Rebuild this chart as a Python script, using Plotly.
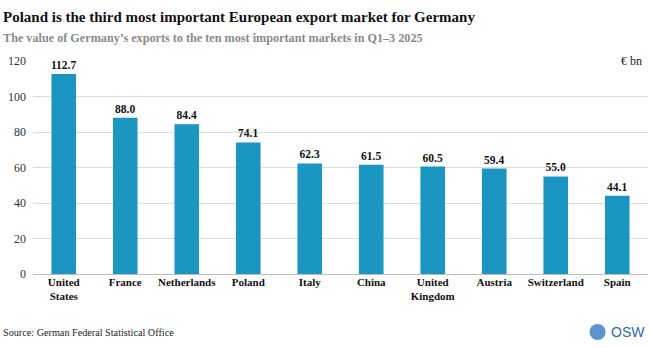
import plotly.graph_objects as go

categories = ["United<br>States", "France", "Netherlands", "Poland", "Italy", "China",
              "United<br>Kingdom", "Austria", "Switzerland", "Spain"]
values = [112.7, 88.0, 84.4, 74.1, 62.3, 61.5, 60.5, 59.4, 55.0, 44.1]
y_ticks = [0, 20, 40, 60, 80, 100, 120]

FONT = "Liberation Serif"
BAR = "#1a96c0"

fig = go.Figure()
fig.add_trace(go.Bar(
    x=categories, y=values, marker_color=BAR, marker_line_width=0,
    text=[f"{v:.1f}" for v in values], textposition="outside",
    textfont=dict(family=FONT, size=11.5, color="#111111", weight="bold"),
    cliponaxis=False, constraintext="none",
))

fig.update_layout(
    width=650, height=348,
    margin=dict(l=33, r=2, t=61, b=74),
    paper_bgcolor="white", plot_bgcolor="white",
    bargap=0.6,
    showlegend=False,
    font=dict(family=FONT, color="#222222"),
    xaxis=dict(
        tickfont=dict(family=FONT, size=11, color="#111111", weight="bold"),
        showgrid=False, showline=False, zeroline=False, ticks="",
    ),
    yaxis=dict(
        range=[0, 120], tickvals=y_ticks,
        tickfont=dict(family=FONT, size=12, color="#333333"),
        showgrid=True, gridcolor="#dcdcdc", gridwidth=1,
        zeroline=True, zerolinecolor="#bdbdbd", zerolinewidth=1,
        showline=False, ticklabelstandoff=6,
    ),
    annotations=[
        dict(text="<b>Poland is the third most important European export market for Germany</b>",
             xref="paper", yref="paper", x=0, y=1, xanchor="left", yanchor="middle",
             font=dict(family=FONT, size=15, color="#111111"), showarrow=False,
             xshift=-32, yshift=44),
        dict(text="<b>The value of Germany’s exports to the ten most important markets in Q1–3 2025</b>",
             xref="paper", yref="paper", x=0, y=1, xanchor="left", yanchor="middle",
             font=dict(family=FONT, size=12.2, color="#8a8a8a"), showarrow=False,
             xshift=-32, yshift=23),
        dict(text="€ bn", xref="paper", yref="y", x=1, y=120, xanchor="right", yanchor="middle",
             font=dict(family=FONT, size=12, color="#222222"), showarrow=False,
             bgcolor="white", borderpad=3, xshift=-2),
        dict(text="Source: German Federal Statistical Office",
             xref="paper", yref="paper", x=0, y=0, xanchor="left", yanchor="middle",
             font=dict(family=FONT, size=10.2, color="#222222"), showarrow=False,
             xshift=-32, yshift=-58),
        dict(text="OSW", xref="paper", yref="paper", x=1, y=0, xanchor="right", yanchor="middle",
             font=dict(family="Liberation Sans", size=14, color="#2f6aa8"),
             showarrow=False, xshift=-1, yshift=-58),
    ],
    shapes=[
        dict(type="circle", xref="paper", yref="paper", xsizemode="pixel", ysizemode="pixel",
             xanchor=0.918, yanchor=0, x0=-8, x1=8, y0=-66, y1=-50,
             fillcolor="#5b93cc", line=dict(width=0)),
    ],
)

fig.write_html("out.html")
